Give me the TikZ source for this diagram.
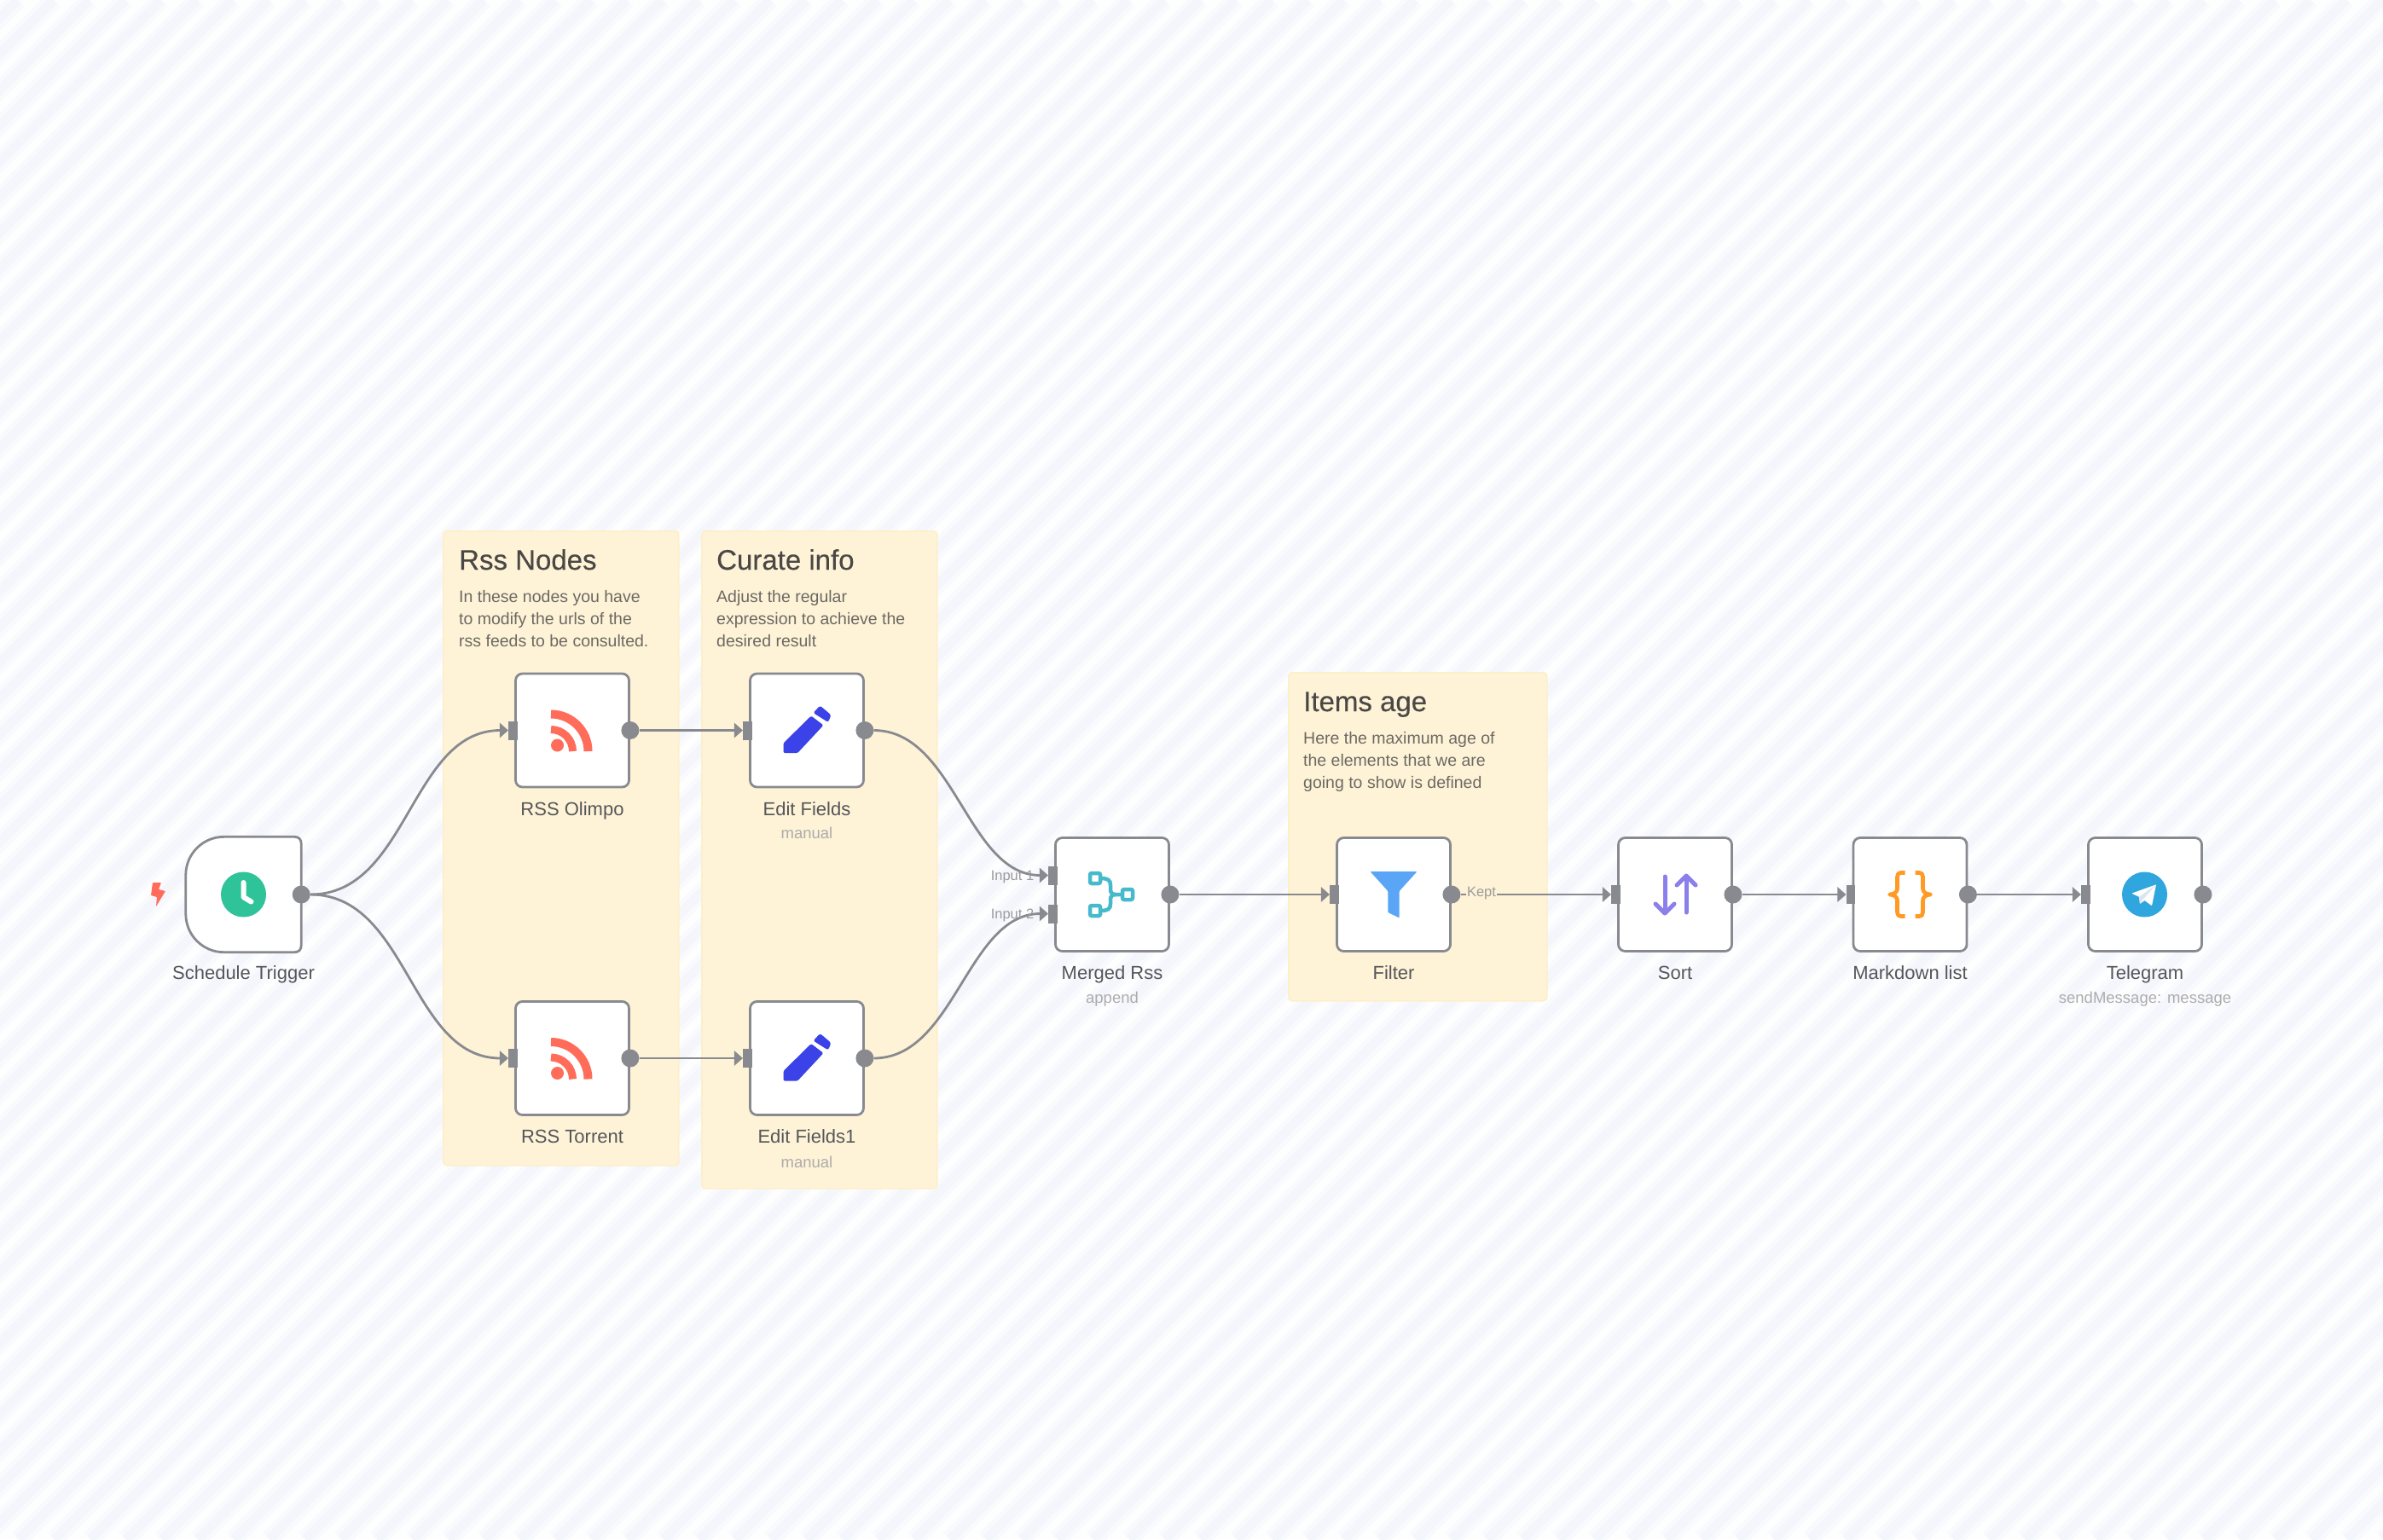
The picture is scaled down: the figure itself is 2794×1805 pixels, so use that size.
\documentclass[tikz,border=0pt]{standalone}
\usepackage{fontspec}
\setmainfont{Liberation Sans}
\newfontfamily\titlef[FakeBold=0.35]{Liberation Sans}
\usetikzlibrary{arrows.meta}
\definecolor{wirec}{HTML}{888A90}
\definecolor{stickyc}{HTML}{FEF3D6}
\definecolor{stickye}{HTML}{FDEFC8}
\definecolor{titlec}{HTML}{4A4846}
\definecolor{bodyc}{HTML}{6C6964}
\definecolor{labelc}{HTML}{55565B}
\definecolor{subc}{HTML}{ADABAD}
\definecolor{rssc}{HTML}{FF6D5A}
\definecolor{penc}{HTML}{3A42E8}
\definecolor{funnelc}{HTML}{5AA5F5}
\definecolor{sortc}{HTML}{8B80EA}
\definecolor{bracec}{HTML}{FF9A24}
\definecolor{tgc}{HTML}{2FA6DE}
\definecolor{clockc}{HTML}{2FC39A}
\definecolor{mergec}{HTML}{45BACB}
\tikzset{
  sticky/.style={draw=stickye,fill=stickyc,line width=1.5pt,rounded corners=4pt},
  nodebox/.style={draw=wirec,fill=white,line width=2.8pt,rounded corners=8pt,minimum width=133pt,minimum height=133pt,inner sep=0pt},
  outport/.style={circle,fill=wirec,minimum size=21pt,inner sep=0pt},
  inport/.style={rectangle,fill=wirec,minimum width=10.5pt,minimum height=22pt,inner sep=0pt},
  wire/.style={draw=wirec,line width=2.8pt,-{Triangle[length=10pt,width=17pt]}},
  titletext/.style={anchor=base west,inner sep=0pt,text=titlec,font=\fontsize{33}{33}\selectfont\titlef},
  bodytext/.style={anchor=north west,inner sep=0pt,align=left,text=bodyc,font=\fontsize{19.5}{26}\selectfont},
  nlabel/.style={anchor=base,inner sep=0pt,text=labelc,font=\fontsize{22}{22}\selectfont},
  nsub/.style={anchor=base,inner sep=0pt,text=subc,font=\fontsize{18.5}{18.5}\selectfont},
  plabel/.style={inner sep=0pt,text=subc!90!black,font=\fontsize{16.5}{16.5}\selectfont}
}
\newcommand{\iconrss}[1]{\begin{scope}[shift={(#1.center)}]
  \fill[rssc] (-17.5,17.5) circle[radius=7.5pt];
  \draw[rssc,line width=10pt] (-25,-19) .. controls (-1,-19) and (18.5,0.5) .. (18.5,24.5);
  \draw[rssc,line width=9pt] (-25,-1) .. controls (-11,-1) and (0.5,10.5) .. (0.5,24.5);
\end{scope}}
\newcommand{\iconpen}[1]{\begin{scope}[shift={(#1.center)}]
  \fill[penc,rounded corners=1.5pt] (-27.5,26.7) -- (-27.5,15) -- (5,-17) -- (19.5,-6) -- (-11,26.7) -- cycle;
  \fill[penc,rounded corners=2.5pt] (7.5,-20.5) -- (15.5,-29) -- (28.5,-18) -- (25,-9.5) -- cycle;
\end{scope}}
\begin{document}
\begin{tikzpicture}[x=1pt,y=-1pt]
\useasboundingbox (0,0) rectangle (2794,1805);
% background
\fill[white!60!blue!1!white] (0,0) rectangle (2794,1805);
\begin{scope}
\clip (0,0) rectangle (2794,1805);
\foreach \k in {-1,0,...,115} {
  \pgfmathsetmacro{\cc}{63+42*\k}
  \draw[color={rgb,255:red,249;green,250;blue,254},line width=21pt] (\cc,0) -- (\cc-1805,1805);
  \draw[color={rgb,255:red,245;green,246;blue,251},line width=11pt] (\cc,0) -- (\cc-1805,1805);
}
\end{scope}
% stickies
\node[sticky,minimum width=276pt,minimum height=744pt,anchor=north west,inner sep=0pt] (noteA) at (519,622) {};
\node[sticky,minimum width=276pt,minimum height=771pt,anchor=north west,inner sep=0pt] (noteB) at (822,622) {};
\node[sticky,minimum width=303pt,minimum height=385pt,anchor=north west,inner sep=0pt] (noteC) at (1510,788) {};
\node[titletext] (tA) at (538,668) {Rss Nodes};
\node[titletext] (tB) at (840,668) {Curate info};
\node[titletext] (tC) at (1528,834) {Items age};
\node[bodytext] (bA) at (538,692) {In these nodes you have\\to modify the urls of the\\rss feeds to be consulted.};
\node[bodytext] (bB) at (840,692) {Adjust the regular\\expression to achieve the\\desired result};
\node[bodytext] (bC) at (1528,858) {Here the maximum age of\\the elements that we are\\going to show is defined};
% nodes
\node[minimum width=135pt,minimum height=135pt,inner sep=0pt] (sch) at (285.5,1049) {};
\draw[draw=wirec,fill=white,line width=2.8pt]
  (sch.east) -- ([yshift=-8pt]sch.north east) .. controls ([yshift=-3pt]sch.north east) and ([xshift=-3pt]sch.north east) .. ([xshift=-8pt]sch.north east)
  -- ([xshift=45pt]sch.north west) .. controls ([xshift=20pt]sch.north west) and ([yshift=-20pt]sch.north west) .. ([yshift=-45pt]sch.north west)
  -- ([yshift=45pt]sch.south west) .. controls ([yshift=20pt]sch.south west) and ([xshift=20pt]sch.south west) .. ([xshift=45pt]sch.south west)
  -- ([xshift=-8pt]sch.south east) .. controls ([xshift=-3pt]sch.south east) and ([yshift=3pt]sch.south east) .. ([yshift=8pt]sch.south east) -- cycle;
\node[nodebox] (r1) at (671,856.5) {};
\node[nodebox] (r2) at (671,1241) {};
\node[nodebox] (e1) at (946,856.5) {};
\node[nodebox] (e2) at (946,1241) {};
\node[nodebox] (mg) at (1304,1049) {};
\node[nodebox] (fl) at (1634,1049) {};
\node[nodebox] (so) at (1964,1049) {};
\node[nodebox] (md) at (2239.5,1049) {};
\node[nodebox] (tg) at (2515,1049) {};
% labels
\node[nlabel] (lsch) at ([yshift=-99pt]sch.center) {Schedule Trigger};
\node[nlabel] (lr1) at ([yshift=-99.5pt]r1.center) {RSS Olimpo};
\node[nlabel] (lr2) at ([yshift=-99pt]r2.center) {RSS Torrent};
\node[nlabel] (le1) at ([yshift=-99.5pt]e1.center) {Edit Fields};
\node[nlabel] (le2) at ([yshift=-99pt]e2.center) {Edit Fields1};
\node[nlabel] (lmg) at ([yshift=-99pt]mg.center) {Merged Rss};
\node[nlabel] (lfl) at ([yshift=-99pt]fl.center) {Filter};
\node[nlabel] (lso) at ([yshift=-99pt]so.center) {Sort};
\node[nlabel] (lmd) at ([yshift=-99pt]md.center) {Markdown list};
\node[nlabel] (ltg) at ([yshift=-99pt]tg.center) {Telegram};
\node[nsub] (se1) at ([yshift=-127pt]e1.center) {manual};
\node[nsub] (se2) at ([yshift=-128pt]e2.center) {manual};
\node[nsub] (smg) at ([yshift=-127pt]mg.center) {append};
\node[nsub] (stg) at ([yshift=-127pt]tg.center) {sendMessage: message};
% ports
\node[outport] (osch) at (sch.east) {};
\node[outport] (or1) at (r1.east) {};
\node[outport] (or2) at (r2.east) {};
\node[outport] (oe1) at (e1.east) {};
\node[outport] (oe2) at (e2.east) {};
\node[outport] (omg) at (mg.east) {};
\node[outport] (ofl) at (fl.east) {};
\node[outport] (oso) at (so.east) {};
\node[outport] (omd) at (md.east) {};
\node[outport] (otg) at (tg.east) {};
\node[inport] (ir1) at ([xshift=-1.7pt]r1.west) {};
\node[inport] (ir2) at ([xshift=-1.7pt]r2.west) {};
\node[inport] (ie1) at ([xshift=-1.7pt]e1.west) {};
\node[inport] (ie2) at ([xshift=-1.7pt]e2.west) {};
\node[inport] (imgA) at ([xshift=-1.7pt,yshift=22.5pt]mg.west) {};
\node[inport] (imgB) at ([xshift=-1.7pt,yshift=-22.5pt]mg.west) {};
\node[inport] (ifl) at ([xshift=-1.7pt]fl.west) {};
\node[inport] (iso) at ([xshift=-1.7pt]so.west) {};
\node[inport] (imd) at ([xshift=-1.7pt]md.west) {};
\node[inport] (itg) at ([xshift=-1.7pt]tg.west) {};
% wires
\draw[wire] (osch.east) .. controls +(115,0) and +(-115,0) .. (ir1.west);
\draw[wire] (osch.east) .. controls +(115,0) and +(-115,0) .. (ir2.west);
\draw[wire] (or1.east) -- (ie1.west);
\draw[wire] (or2.east) -- (ie2.west);
\draw[wire] (oe1.east) .. controls +(95,0) and +(-95,0) .. (imgA.west);
\draw[wire] (oe2.east) .. controls +(95,0) and +(-95,0) .. (imgB.west);
\draw[wire] (omg.east) -- (ifl.west);
\draw[wire] (ofl.east) -- (iso.west);
\draw[wire] (oso.east) -- (imd.west);
\draw[wire] (omd.east) -- (itg.west);
% connector labels
\node[plabel,anchor=base] (pA) at (1187,1032) {Input 1};
\node[plabel,anchor=base] (pB) at (1187,1077) {Input 2};
\node[plabel,fill=stickyc,inner xsep=1pt,anchor=center] (pK) at (1737,1048) {Kept};
% trigger icon
\begin{scope}[shift={(sch.center)}]
  \fill[clockc] (0,0) circle[radius=26.5pt];
  \draw[white,line width=6pt,line cap=round,line join=round] (0,-14) -- (0,3) -- (9,8.5);
\end{scope}
\node[inner sep=0pt,minimum size=1pt] (bolt) at (185,1049) {};
\fill[rssc,rounded corners=0.8pt] (179,1035) -- (189,1035) -- (186,1043) -- (194,1045) -- (183,1063) -- (184,1052) -- (177,1050) -- cycle;
% rss icons
\iconrss{r1}
\iconrss{r2}
% pencils
\iconpen{e1}
\iconpen{e2}
% merge icon
\begin{scope}[shift={(mg.center)},draw=mergec,line width=4.5pt]
  \draw[rounded corners=2pt] (-26,-25) rectangle (-14,-13);
  \draw[rounded corners=2pt] (-26,13) rectangle (-14,25);
  \draw[rounded corners=2pt] (12,-6) rectangle (24,6);
  \draw (-14,-19) .. controls (-5,-19) and (-2,-17) .. (-2,-11) -- (-2,-6) .. controls (-2,-2) and (0,0) .. (4,0) -- (12,0);
  \draw (-14,19) .. controls (-5,19) and (-2,17) .. (-2,11) -- (-2,6) .. controls (-2,2) and (0,0) .. (4,0);
\end{scope}
% funnel
\begin{scope}[shift={(fl.center)}]
  \fill[funnelc,rounded corners=1pt] (-27.5,-27) -- (27.5,-27) -- (6.7,-4) -- (6.7,27.5) -- (-6.7,21) -- (-6.7,-4) -- cycle;
\end{scope}
% sort
\begin{scope}[shift={(so.center)},draw=sortc,line width=5pt,line cap=round,line join=round]
  \draw (-12,-21) -- (-12,21);
  \draw (-23,11) -- (-12,22) -- (-1,11);
  \draw (13,21) -- (13,-21);
  \draw (2,-11) -- (13,-22) -- (24,-11);
\end{scope}
% braces
\begin{scope}[shift={(md.center)},draw=bracec,line width=4.6pt,line join=round]
  \draw (-6,-25.5) -- (-11,-25.5) .. controls (-13.5,-25.5) and (-15,-24) .. (-15,-21) -- (-15,-7) .. controls (-15,-3) and (-18,-0.5) .. (-24,0) .. controls (-18,0.5) and (-15,3) .. (-15,7) -- (-15,21) .. controls (-15,24) and (-13.5,25.5) .. (-11,25.5) -- (-6,25.5);
  \draw (6,-25.5) -- (11,-25.5) .. controls (13.5,-25.5) and (15,-24) .. (15,-21) -- (15,-7) .. controls (15,-3) and (18,-0.5) .. (24,0) .. controls (18,0.5) and (15,3) .. (15,7) -- (15,21) .. controls (15,24) and (13.5,25.5) .. (11,25.5) -- (6,25.5);
\end{scope}
% telegram
\begin{scope}[shift={(tg.center)}]
  \fill[tgc] (-0.5,0) circle[radius=26.5pt];
  \fill[white,rounded corners=0.8pt] (-15.7,-1.3) -- (13,-11.7) -- (8,13.3) -- (-0.5,7) -- (-6,11) -- (-7,2.7) -- cycle;
  \fill[color={rgb,255:red,220;green,230;blue,243}] (-7,2.7) -- (13,-11.7) -- (-2,5.5) -- (-6,11) -- cycle;
\end{scope}
\end{tikzpicture}
\end{document}
